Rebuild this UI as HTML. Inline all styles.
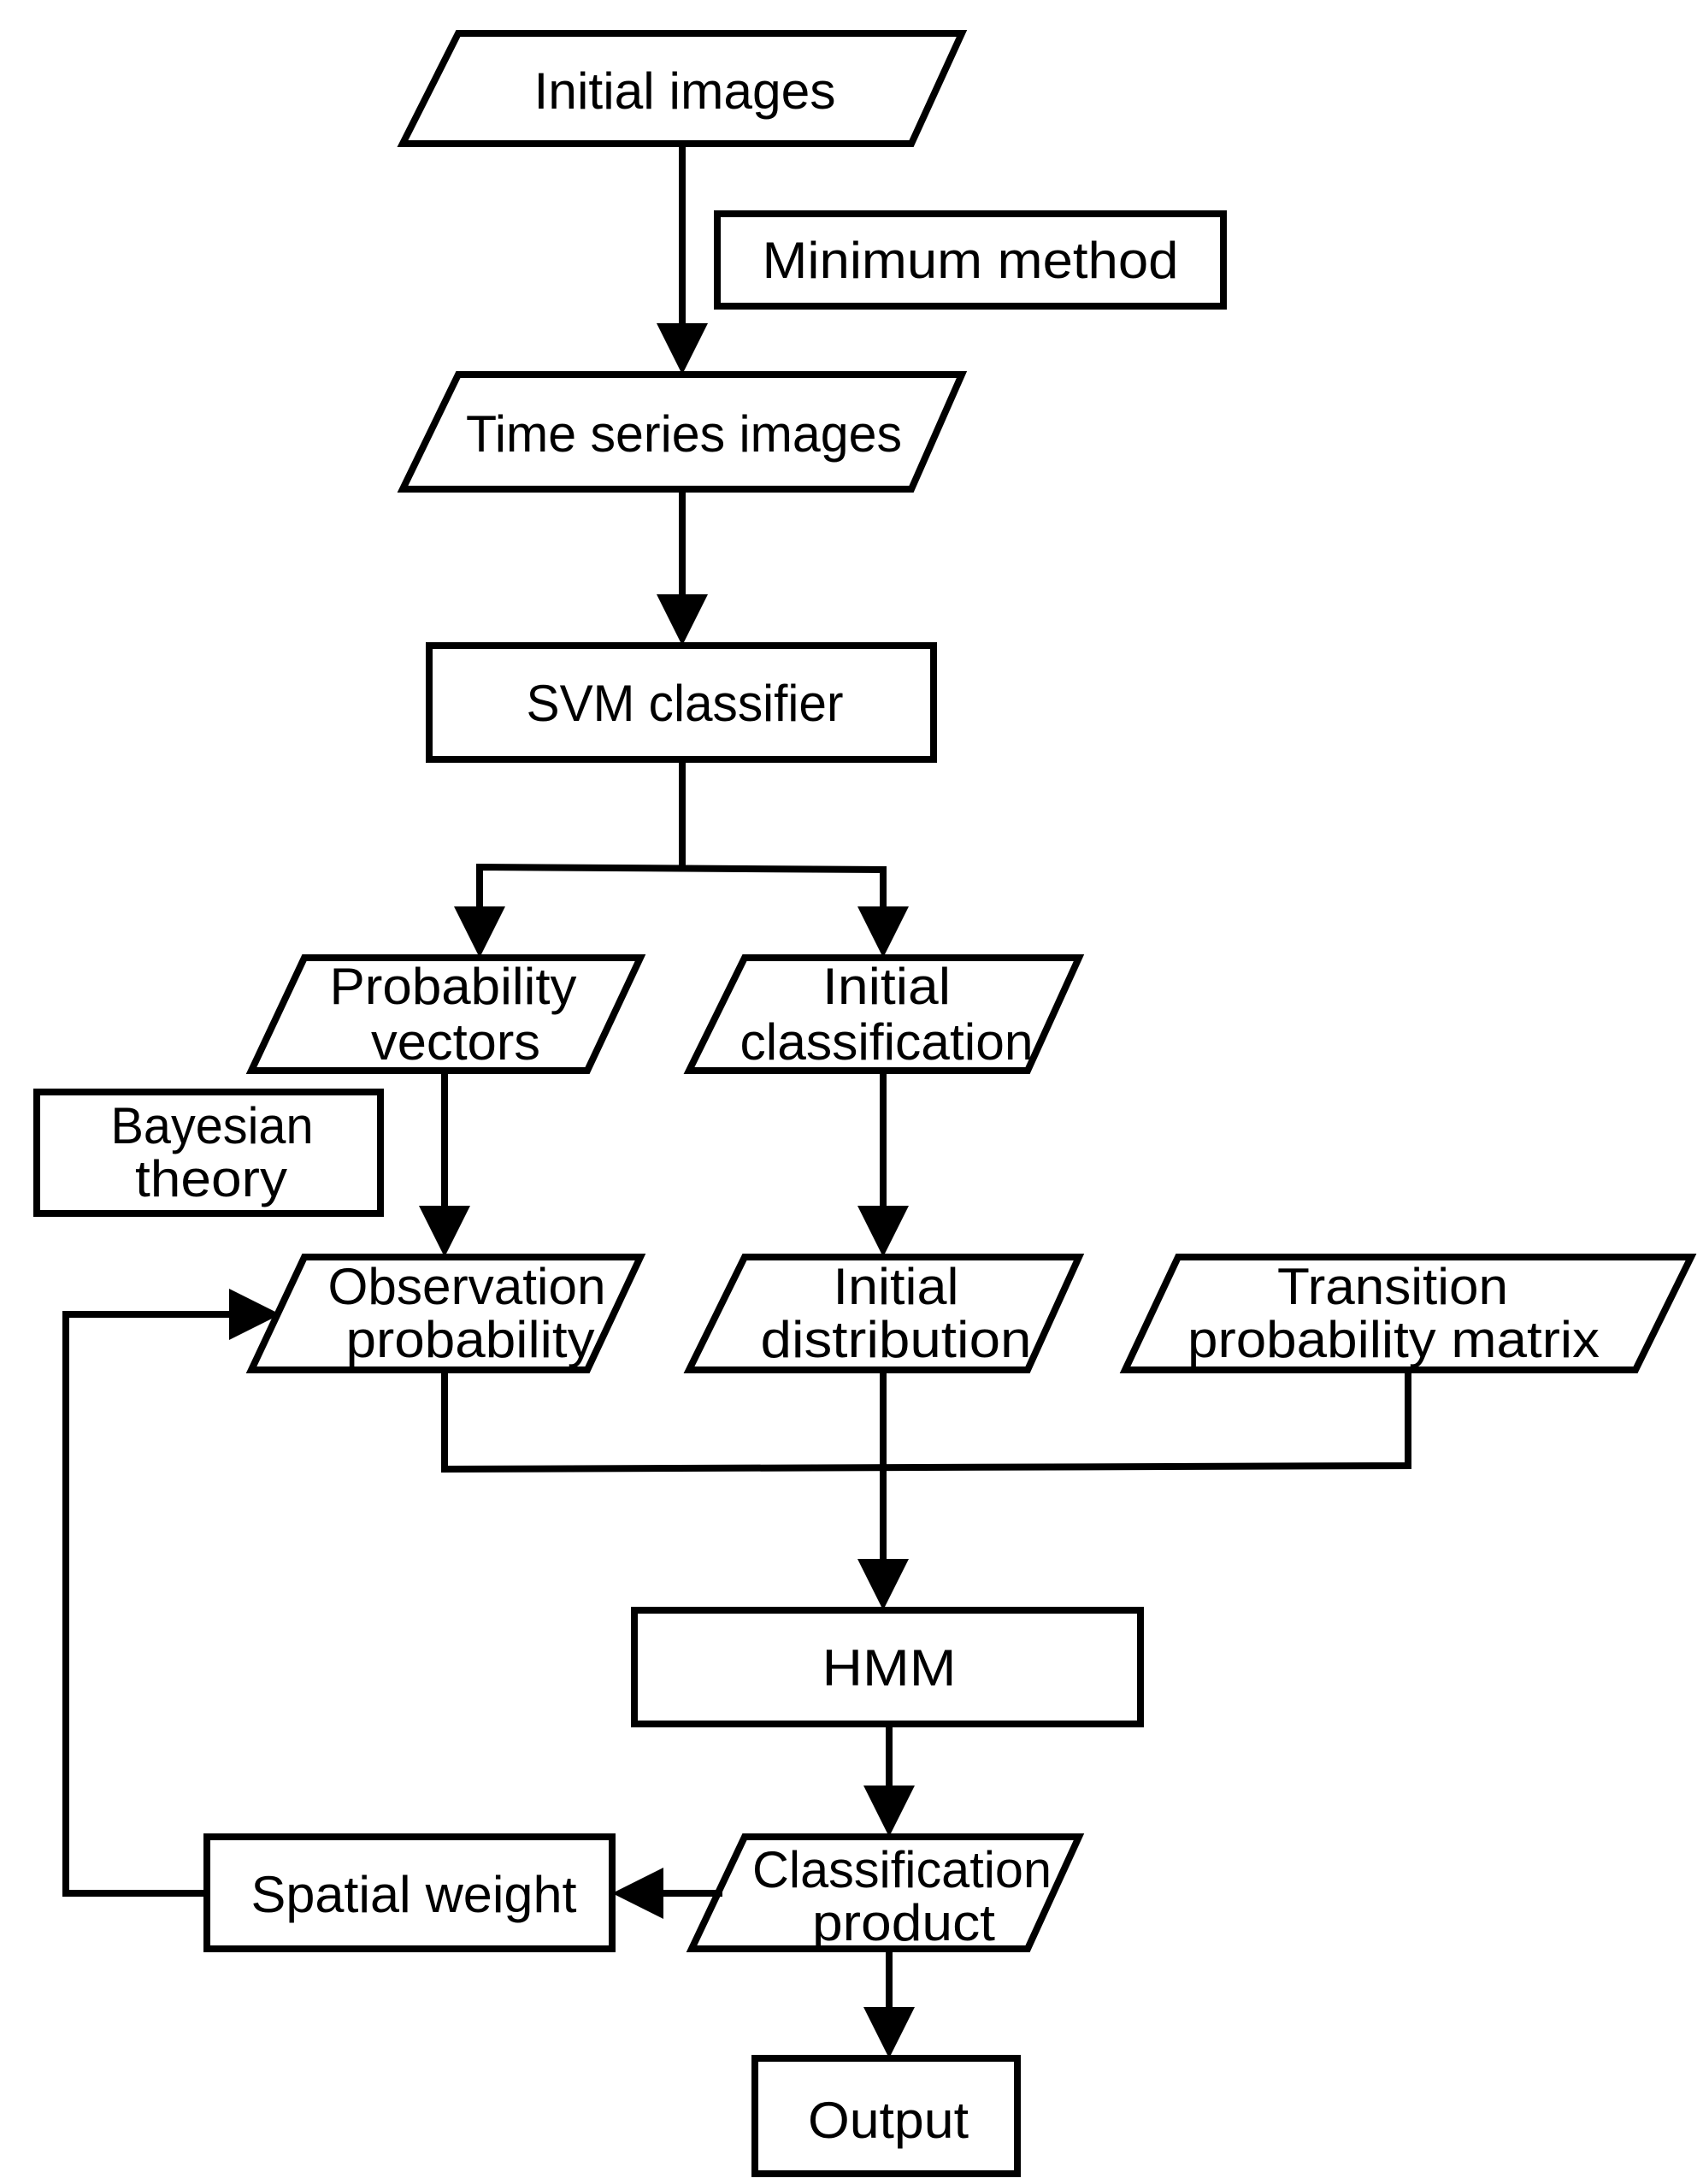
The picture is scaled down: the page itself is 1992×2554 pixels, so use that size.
<!DOCTYPE html>
<html><head><meta charset="utf-8"><style>html,body{margin:0;padding:0;background:#fff}svg{display:block}</style></head>
<body>
<svg width="1992" height="2554" viewBox="0 0 1992 2554" xmlns="http://www.w3.org/2000/svg">
<g fill="none" stroke="#000" stroke-width="8" stroke-linejoin="miter">
<polygon points="536,39 1125,39 1066,168 471,168"/>
<rect x="839" y="250" width="592" height="108"/>
<polygon points="536,438 1125,438 1066,572 471,572"/>
<rect x="502" y="755" width="590" height="133"/>
<polygon points="356,1120 749,1120 687,1252 294,1252"/>
<polygon points="871,1120 1262,1120 1202,1252 806,1252"/>
<rect x="43" y="1277" width="402" height="142"/>
<polygon points="356,1470 749,1470 687,1602 294,1602"/>
<polygon points="871,1470 1262,1470 1202,1602 806,1602"/>
<polygon points="1378,1470 1978,1470 1913,1602 1316,1602"/>
<rect x="742" y="1883" width="592" height="133"/>
<polygon points="871,2148 1262,2148 1202,2279 809,2279"/>
<rect x="242" y="2148" width="474" height="131"/>
<rect x="883" y="2407" width="307" height="135"/>
<polyline points="798,168 798,390"/>
<polyline points="798,572 798,710"/>
<polyline points="798,888 798,1016"/>
<polyline points="561,1075 561,1014 1033,1017 1033,1075"/>
<polyline points="520,1252 520,1425"/>
<polyline points="1033,1252 1033,1425"/>
<polyline points="520,1602 520,1718 1647,1714 1647,1602"/>
<polyline points="1033,1602 1033,1838"/>
<polyline points="1040,2016 1040,2103"/>
<polyline points="845,2214 760,2214"/>
<polyline points="242,2214 77,2214 77,1537 275,1537"/>
<polyline points="1040,2279 1040,2362"/>
</g>
<g fill="#000">
<polygon points="768,378 828,378 798,438"/>
<polygon points="768,695 828,695 798,755"/>
<polygon points="531,1060 591,1060 561,1120"/>
<polygon points="1003,1060 1063,1060 1033,1120"/>
<polygon points="490,1410 550,1410 520,1470"/>
<polygon points="1003,1410 1063,1410 1033,1470"/>
<polygon points="1003,1823 1063,1823 1033,1883"/>
<polygon points="1010,2088 1070,2088 1040,2148"/>
<polygon points="1010,2347 1070,2347 1040,2407"/>
<polygon points="776,2184 776,2244 716,2214"/>
<polygon points="268,1507 268,1567 328,1537"/>
</g>
<g font-family="'Liberation Sans', sans-serif" font-size="60" text-anchor="middle" fill="#000">
<text x="801" y="127" textLength="353" lengthAdjust="spacingAndGlyphs">Initial images</text>
<text x="1135" y="325" textLength="487" lengthAdjust="spacingAndGlyphs">Minimum method</text>
<text x="800" y="528" textLength="510" lengthAdjust="spacingAndGlyphs">Time series images</text>
<text x="801" y="843" textLength="371" lengthAdjust="spacingAndGlyphs">SVM classifier</text>
<text x="530" y="1174" textLength="289" lengthAdjust="spacingAndGlyphs">Probability</text>
<text x="533" y="1239" textLength="198" lengthAdjust="spacingAndGlyphs">vectors</text>
<text x="1037" y="1174" textLength="150" lengthAdjust="spacingAndGlyphs">Initial</text>
<text x="1037" y="1239" textLength="343" lengthAdjust="spacingAndGlyphs">classification</text>
<text x="248" y="1337" textLength="237" lengthAdjust="spacingAndGlyphs">Bayesian</text>
<text x="247" y="1399" textLength="178" lengthAdjust="spacingAndGlyphs">theory</text>
<text x="546" y="1525" textLength="325" lengthAdjust="spacingAndGlyphs">Observation</text>
<text x="550" y="1587" textLength="291" lengthAdjust="spacingAndGlyphs">probability</text>
<text x="1048" y="1525" textLength="147" lengthAdjust="spacingAndGlyphs">Initial</text>
<text x="1048" y="1587" textLength="317" lengthAdjust="spacingAndGlyphs">distribution</text>
<text x="1629" y="1525" textLength="270" lengthAdjust="spacingAndGlyphs">Transition</text>
<text x="1630" y="1587" textLength="482" lengthAdjust="spacingAndGlyphs">probability matrix</text>
<text x="1040" y="1971" textLength="157" lengthAdjust="spacingAndGlyphs">HMM</text>
<text x="1055" y="2207" textLength="350" lengthAdjust="spacingAndGlyphs">Classification</text>
<text x="1057" y="2269" textLength="214" lengthAdjust="spacingAndGlyphs">product</text>
<text x="484" y="2236" textLength="381" lengthAdjust="spacingAndGlyphs">Spatial weight</text>
<text x="1039" y="2500" textLength="188" lengthAdjust="spacingAndGlyphs">Output</text>
</g>
</svg>
</body></html>
